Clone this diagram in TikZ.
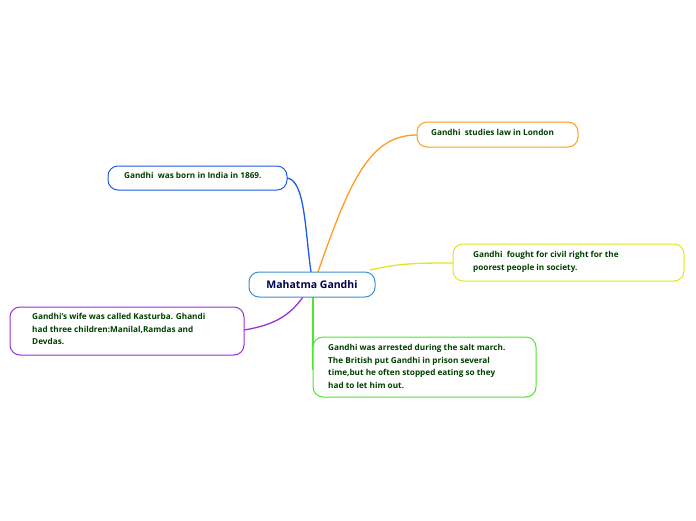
\documentclass[tikz,border=0pt]{standalone}
\usepackage{fontspec}
\setmainfont{Open Sans}
\begin{document}
\begin{tikzpicture}[x=1pt,y=-1pt,
  box/.style={line width=1pt, rounded corners=10pt},
  txt/.style={font=\fontsize{8.2}{12.7}\selectfont\bfseries, text=black!75!green, align=left, anchor=north west, inner sep=0pt},
  conn/.style={line width=1.3pt}]
\useasboundingbox (0,0) rectangle (696,520);
\definecolor{cb}{HTML}{1E5BE6}\definecolor{co}{HTML}{FF9B1E}\definecolor{cy}{HTML}{E0E620}
\definecolor{cg}{HTML}{4AE82A}\definecolor{cp}{HTML}{9B2FE0}\definecolor{cc}{HTML}{3A8FD0}
% connectors
\coordinate (cbA) at (311,272); \coordinate (coA) at (318,272); \coordinate (cyA) at (370,270);
\coordinate (cgA) at (313,297); \coordinate (cpA) at (303,297);
\draw[conn,cb] (287,178) .. controls (305,180) and (305,230) .. (cbA);
\draw[conn,co] (417,135) .. controls (370,135) and (350,180) .. (coA);
\draw[conn,cy] (453,263) .. controls (420,263) and (400,263) .. (cyA);
\draw[conn,cg] (cgA) -- (313,370);
\draw[conn,cp] (244,330) .. controls (275,325) and (290,315) .. (cpA);
% boxes
\draw[box,draw=cc,fill=white] (249,272) rectangle (375,297);
\node[font=\fontsize{10.5}{12}\selectfont\bfseries, text=blue!30!black] (c) at (312,285) {Mahatma Gandhi};
\draw[box,draw=cb,fill=white] (108,166) rectangle (287,190);
\node[txt] (b) at (124,172.5) {Gandhi\ \ was born in India in 1869.};
\draw[box,draw=co,fill=white] (417,122) rectangle (578,147);
\node[txt] (l) at (431,129) {Gandhi\ \ studies law in London};
\draw[box,draw=cy,fill=white] (453,244) rectangle (684,281);
\node[txt] (y) at (473,251) {Gandhi\ \ fought for civil right for the\\poorest people in society.};
\draw[box,draw=cg,fill=white] (313,337) rectangle (536,397);
\node[txt] (g) at (328,344) {Gandhi was arrested during the salt march.\\The British put Gandhi in prison several\\time,but he often stopped eating so they\\had to let him out.};
\draw[box,draw=cp,fill=white] (10,307) rectangle (244,355);
\node[txt] (p) at (32,313) {Gandhi's wife was called Kasturba. Ghandi\\had three children:Manilal,Ramdas and\\Devdas.};
\end{tikzpicture}
\end{document}
